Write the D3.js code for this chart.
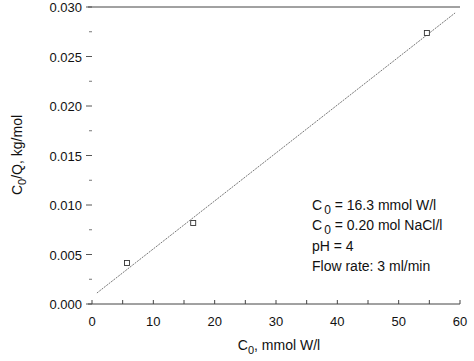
<!DOCTYPE html>
<html>
<head>
<meta charset="utf-8">
<script src="https://cdn.jsdelivr.net/npm/d3@7"></script>
<style>
  body { margin: 0; background: #fff; }
  text { font-family: "Liberation Sans", Arial, sans-serif; fill: #111; }
</style>
</head>
<body>
<div id="chart"></div>
<script>
// measured points
const concW = [5.7, 16.5, 54.6];
const c0OverQ = [0.00414, 0.00818, 0.02737];

// fitted line
const fitX = [0.8, 59.2];
const fitY = [0.00111, 0.0294];

const xTicks = [0, 10, 20, 30, 40, 50, 60];
const yTicks = [0.000, 0.005, 0.010, 0.015, 0.020, 0.025, 0.030];

const notes = [
  ["C", "0", "= 16.3 mmol W/l"],
  ["C", "0", "= 0.20 mol NaCl/l"],
  ["pH = 4", "", ""],
  ["Flow rate: 3 ml/min", "", ""]
];

const width = 474;
const height = 361;

const svg = d3.select("#chart")
  .append("svg")
  .attr("width", width)
  .attr("height", height);

const x = d3.scaleLinear().domain([0, 60]).range([92, 460]);
const y = d3.scaleLinear().domain([0, 0.03]).range([304, 7]);

// x axis line + ticks pointing up
svg.append("line")
  .attr("x1", 88).attr("x2", 460)
  .attr("y1", y(0)).attr("y2", y(0))
  .attr("stroke", "#444").attr("stroke-width", 1);

svg.append("g")
  .selectAll("line")
  .data(d3.range(0, 61, 5))
  .enter()
  .append("line")
  .attr("x1", (d) => x(d)).attr("x2", (d) => x(d))
  .attr("y1", y(0)).attr("y2", y(0) - 4)
  .attr("stroke", "#444");

svg.append("g")
  .selectAll("text")
  .data(xTicks)
  .enter()
  .append("text")
  .attr("x", (d) => x(d))
  .attr("y", y(0) + 22)
  .attr("text-anchor", "middle")
  .style("font-size", "13px")
  .text((d) => d);

// top line at 0.030
svg.append("line")
  .attr("x1", 88).attr("x2", 460)
  .attr("y1", y(0.03)).attr("y2", y(0.03))
  .attr("stroke", "#444");

// y ticks (no axis line)
svg.append("g")
  .selectAll("line")
  .data(yTicks)
  .enter()
  .append("line")
  .attr("x1", 86).attr("x2", 92)
  .attr("y1", (d) => y(d)).attr("y2", (d) => y(d))
  .attr("stroke", "#555");

svg.append("g")
  .selectAll("line")
  .data(yTicks.slice(0, -1).map((d) => d + 0.0025))
  .enter()
  .append("line")
  .attr("x1", 89).attr("x2", 92)
  .attr("y1", (d) => y(d)).attr("y2", (d) => y(d))
  .attr("stroke", "#777");

svg.append("g")
  .selectAll("text")
  .data(yTicks)
  .enter()
  .append("text")
  .attr("x", 82)
  .attr("y", (d) => y(d) + 5)
  .attr("text-anchor", "end")
  .style("font-size", "13px")
  .text((d) => d3.format(".3f")(d));

// fit line
svg.append("path")
  .datum(fitX.map((d, i) => [d, fitY[i]]))
  .attr("d", d3.line().x((d) => x(d[0])).y((d) => y(d[1])))
  .attr("fill", "none")
  .attr("stroke", "#666")
  .attr("stroke-width", 0.9)
  .attr("stroke-dasharray", "2,1");

// points
svg.append("g")
  .selectAll("rect")
  .data(concW.map((d, i) => [d, c0OverQ[i]]))
  .enter()
  .append("rect")
  .attr("x", (d) => x(d[0]) - 2.5)
  .attr("y", (d) => y(d[1]) - 2.5)
  .attr("width", 5)
  .attr("height", 5)
  .attr("fill", "#fff")
  .attr("stroke", "#333")
  .attr("stroke-width", 0.9);

// annotation
const note = svg.append("g");
notes.forEach((n, i) => {
  const t = note.append("text")
    .attr("x", 312)
    .attr("y", 210 + i * 20.3)
    .style("font-size", "14px");
  t.append("tspan").text(n[0]);
  if (n[1]) {
    t.append("tspan").attr("dx", 2).attr("dy", 4).style("font-size", "12px").text(n[1]);
    t.append("tspan").attr("dy", -4).text(" " + n[2]);
  }
});

// axis titles
const xt = svg.append("text")
  .attr("x", 279)
  .attr("y", 350)
  .attr("text-anchor", "middle")
  .style("font-size", "14px");
xt.append("tspan").text("C");
xt.append("tspan").attr("dy", 4).style("font-size", "11px").text("0");
xt.append("tspan").attr("dy", -4).text(", mmol W/l");

const yt = svg.append("text")
  .attr("transform", "translate(22,155) rotate(-90)")
  .attr("text-anchor", "middle")
  .style("font-size", "14px");
yt.append("tspan").text("C");
yt.append("tspan").attr("dy", 4).style("font-size", "11px").text("0");
yt.append("tspan").attr("dy", -4).text("/Q, kg/mol");
</script>
</body>
</html>
